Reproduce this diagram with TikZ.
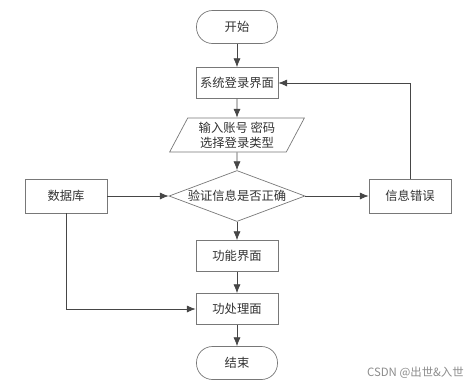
\documentclass[tikz,border=0pt]{standalone}
\usepackage{fontspec}
\newfontfamily\cjk{Noto Sans CJK SC}
\usetikzlibrary{arrows.meta,positioning,shapes.geometric,calc}
\definecolor{flowline}{RGB}{70,70,70}
\definecolor{boxline}{RGB}{120,120,120}

\begin{document}
\begin{tikzpicture}[x=0.02cm, y=-0.02cm,
  every node/.style={font=\cjk\fontsize{7}{9}\selectfont, text=black!80},
  procbox/.style={draw=boxline, minimum width=1.64cm, minimum height=0.62cm, inner sep=1pt},
  termbox/.style={draw=boxline, rounded corners=0.32cm, minimum width=1.62cm, minimum height=0.66cm},
  inputbox/.style={draw=boxline, trapezium, trapezium left angle=62, trapezium right angle=118, minimum width=2.2cm, minimum height=0.68cm, inner sep=0pt, align=center, font=\cjk\fontsize{7}{8.5}\selectfont},
  checkbox/.style={draw=boxline, diamond, aspect=2.6, minimum width=2.72cm, minimum height=1.02cm, inner sep=0pt},
  flow/.style={draw=flowline, -{Latex[length=5pt,width=4pt]}}]
\useasboundingbox (0,0) rectangle (474,387);

% Main column
\node[termbox] (start) at (237,27) {开始};
\node[procbox] (login) at (237,83) {系统登录界面};
\node[inputbox] (input) at (237,135) {输入账号 密码\\选择登录类型};
\node[checkbox] (check) at (237,196) {验证信息是否正确};
\node[procbox] (func) at (237,256) {功能界面};
\node[procbox] (proc) at (237,309) {功处理面};
\node[termbox] (stop) at (237,363) {结束};

% Side boxes
\node[procbox, minimum height=0.68cm] (db) at (66,196) {数据库};
\node[procbox, minimum height=0.68cm] (err) at (410,196) {信息错误};

% Connectors
\draw[flow] (start) -- (login);
\draw[flow] (login) -- (input);
\draw[flow] (input) -- (check);
\draw[flow] (check) -- (func);
\draw[flow] (func) -- (proc);
\draw[flow] (proc) -- (stop);
\draw[flow] (db) -- (check.west);
\draw[flow] (check.east) -- (err);
\draw[flow] (err.north) |- (login.east);
\draw[flow] (db.south) |- (proc.west);

% Watermark
\node[font=\cjk\fontsize{6.5}{8}\selectfont, text=black!45, anchor=south east] (mark) at (470,385) {CSDN @出世\&入世};
\end{tikzpicture}
\end{document}
